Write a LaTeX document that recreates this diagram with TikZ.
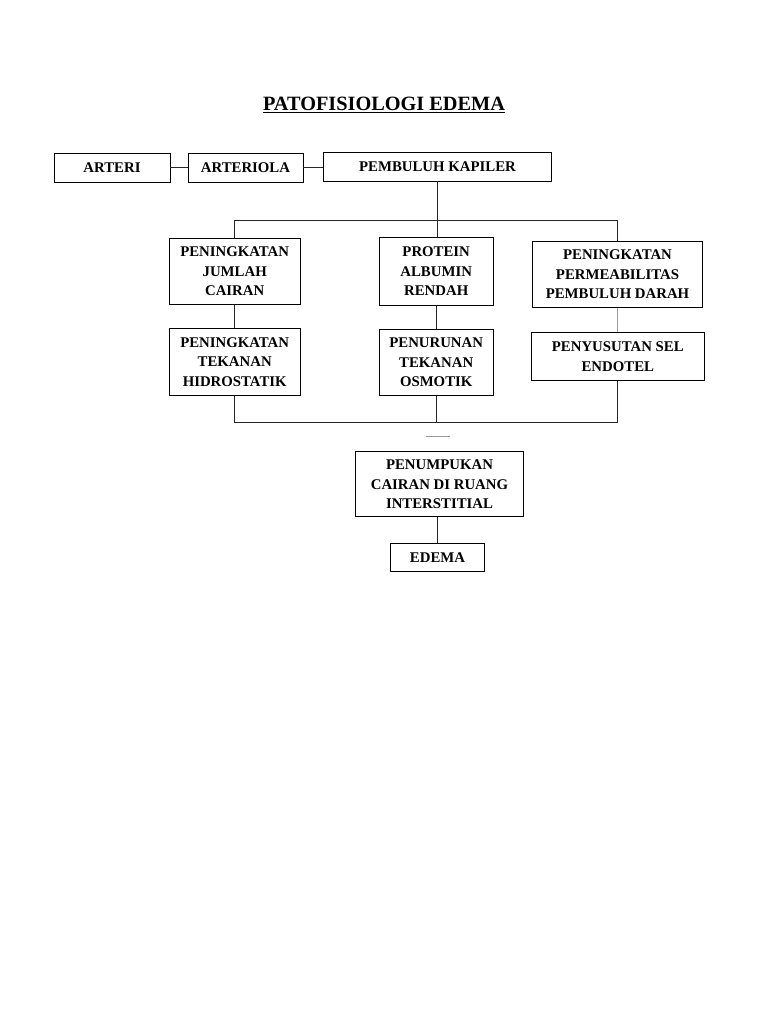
\documentclass[tikz,border=0pt]{standalone}
\usepackage{fontspec}
\setmainfont{Liberation Serif}
\begin{document}
\begin{tikzpicture}[x=1pt,y=-1pt,
  box/.style={draw=black,line width=0.9pt,inner sep=0pt,align=center,
    font=\bfseries\fontsize{14.8}{19.5}\selectfont},
  link/.style={draw=black!85,line width=0.9pt},
  faint/.style={draw=black!40,line width=0.9pt}]
\useasboundingbox[fill=white] (0,0) rectangle (768,1024);
\node[font=\bfseries\fontsize{20.3}{22}\selectfont,anchor=base] (title) at (384,110.7) {\underline{PATOFISIOLOGI EDEMA}};
\node[box,minimum width=116pt,minimum height=29pt] (arteri) at (112,167.5) {ARTERI};
\node[box,minimum width=115pt,minimum height=29pt] (arteriola) at (245.5,167.7) {ARTERIOLA};
\node[box,minimum width=228.4pt,minimum height=28.5pt] (kapiler) at (437.5,166.8) {PEMBULUH KAPILER};
\node[box,minimum width=131.3pt,minimum height=65.7pt] (a1) at (234.7,271.2) {PENINGKATAN\\JUMLAH\\CAIRAN};
\node[box,minimum width=131.3pt,minimum height=66.7pt] (a2) at (234.7,361.7) {PENINGKATAN\\TEKANAN\\HIDROSTATIK};
\node[box,minimum width=114.3pt,minimum height=67.7pt] (b1) at (436.2,271.2) {PROTEIN\\ALBUMIN\\RENDAH};
\node[box,minimum width=114.3pt,minimum height=65.7pt] (b2) at (436.2,362.2) {PENURUNAN\\TEKANAN\\OSMOTIK};
\node[box,minimum width=169.6pt,minimum height=65.6pt] (c1) at (617.5,274.5) {PENINGKATAN\\PERMEABILITAS\\PEMBULUH DARAH};
\node[box,minimum width=172.3pt,minimum height=48.4pt] (c2) at (617.8,356.5) {PENYUSUTAN SEL\\ENDOTEL};
\node[box,minimum width=167.6pt,minimum height=65pt] (d) at (439.5,484.2) {PENUMPUKAN\\CAIRAN DI RUANG\\INTERSTITIAL};
\node[box,minimum width=93.6pt,minimum height=28.4pt] (e) at (437.5,557.5) {EDEMA};
\coordinate (bustop) at (438,220);
\coordinate (busbot) at (438,422);
\coordinate (dashL) at (426,436);
\coordinate (dashR) at (450,436);
\draw[link] (arteri.east) -- (arteri.east -| arteriola.west);
\draw[link] (arteriola.east) -- (arteriola.east -| kapiler.west);
\draw[link] (kapiler.south) -- (kapiler.south |- b1.north);
\draw[link] (a1.north) -- (a1.north |- bustop) -- (c1.north |- bustop) -- (c1.north);
\draw[link] (a1.south) -- (a2.north);
\draw[link] (b1.south) -- (b2.north);
\draw[faint] (c1.south) -- (c1.south |- c2.north);
\draw[link] (a2.south) -- (a2.south |- busbot) -- (c2.south |- busbot) -- (c2.south);
\draw[link] (b2.south) -- (b2.south |- busbot);
\draw[faint] (dashL) -- (dashR);
\draw[link] (e.north |- d.south) -- (e.north);
\end{tikzpicture}
\end{document}
